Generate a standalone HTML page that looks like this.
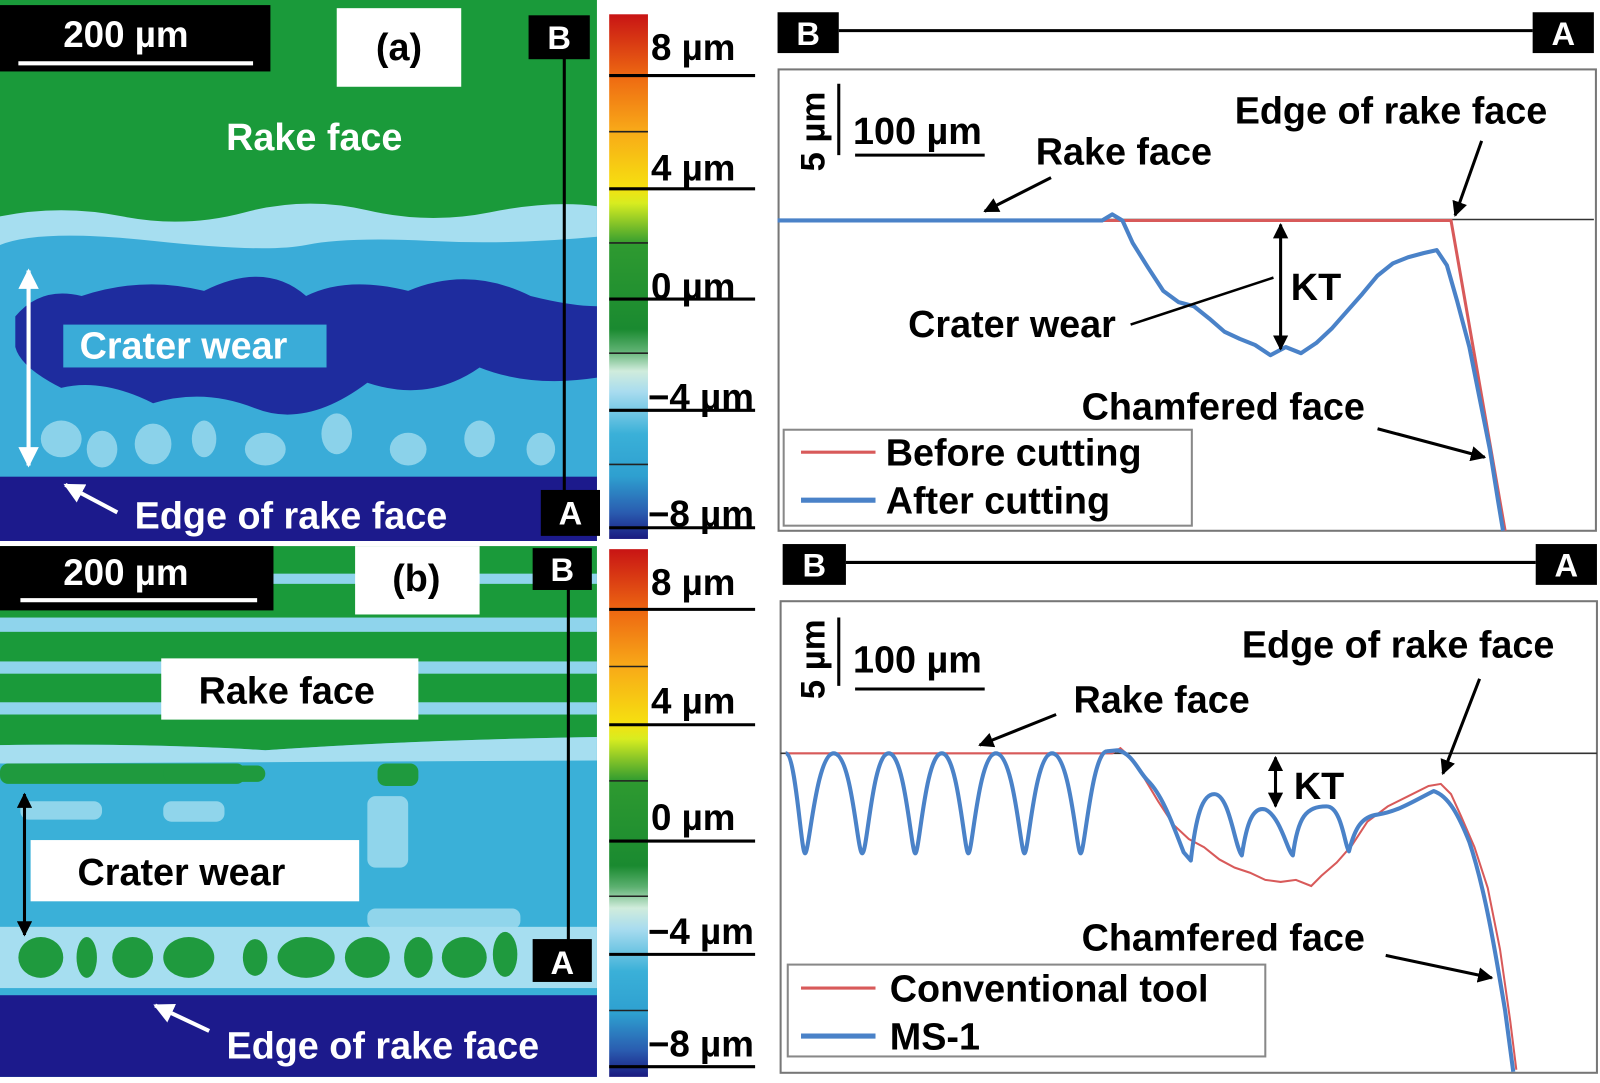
<!DOCTYPE html>
<html><head><meta charset="utf-8"><style>html,body{margin:0;padding:0;background:#fff}svg{display:block}text{font-family:"Liberation Sans",Arial,sans-serif;font-weight:bold}</style></head>
<body>
<svg width="1600" height="1083" viewBox="0 0 1568 1061" preserveAspectRatio="none" xmlns="http://www.w3.org/2000/svg">
<defs>
<linearGradient id="cb" x1="0" y1="0" x2="0" y2="1">
<stop offset="0" stop-color="#c81414"/><stop offset="0.12" stop-color="#ee6a12"/><stop offset="0.22" stop-color="#f8a818"/><stop offset="0.33" stop-color="#f6e010"/><stop offset="0.36" stop-color="#d8ec20"/><stop offset="0.44" stop-color="#2e9a30"/><stop offset="0.6" stop-color="#1a8a30"/><stop offset="0.64" stop-color="#5cb070"/><stop offset="0.68" stop-color="#d0ecdc"/><stop offset="0.72" stop-color="#a8dcef"/><stop offset="0.8" stop-color="#3ab0d8"/><stop offset="0.88" stop-color="#2ea0d0"/><stop offset="0.95" stop-color="#2a5cb0"/><stop offset="1" stop-color="#1a1a80"/>
</linearGradient>
<marker id="ah" viewBox="0 0 10 10" refX="9" refY="5" markerWidth="5" markerHeight="5" orient="auto-start-reverse"><path d="M0,0L10,5L0,10z" fill="#000"/></marker>
<marker id="aw" viewBox="0 0 10 10" refX="9" refY="5" markerWidth="5" markerHeight="5" orient="auto-start-reverse"><path d="M0,0L10,5L0,10z" fill="#fff"/></marker>
</defs>

<!-- Panel (a) left -->
<rect x="0" y="0" width="585" height="530" fill="#1a9a3a"/>
<path d="M0,215 Q60,205 120,215 T240,212 T360,210 T480,212 T585,205 L585,470 L0,470Z" fill="#3aacd8"/>
<path d="M0,212 Q60,200 120,212 T240,208 T360,206 T480,208 T585,202 L585,232 Q500,240 420,236 T300,240 T150,236 T0,240Z" fill="#a6def0"/>
<path d="M15,310 Q40,280 80,290 Q140,270 200,285 Q260,255 300,290 Q340,270 400,285 Q460,260 520,290 Q560,300 585,300 L585,370 Q520,380 470,360 Q420,395 360,375 Q300,420 250,400 Q200,380 150,395 Q100,370 60,380 Q20,360 15,340Z" fill="#1e2c9e"/>
<g fill="#a0dcef" opacity="0.8">
<ellipse cx="60" cy="430" rx="20" ry="18"/><ellipse cx="100" cy="440" rx="15" ry="18"/><ellipse cx="150" cy="435" rx="18" ry="20"/><ellipse cx="200" cy="430" rx="12" ry="18"/><ellipse cx="260" cy="440" rx="20" ry="16"/><ellipse cx="330" cy="425" rx="15" ry="20"/><ellipse cx="400" cy="440" rx="18" ry="16"/><ellipse cx="470" cy="430" rx="15" ry="18"/><ellipse cx="530" cy="440" rx="14" ry="16"/>
</g>
<rect x="0" y="467" width="585" height="63" fill="#1c1a8c"/>
<text x="308" y="147" font-size="37" fill="#fff" text-anchor="middle">Rake face</text>
<rect x="62" y="318" width="258" height="42" fill="#3aacd8"/>
<text x="78" y="351" font-size="37" fill="#fff">Crater wear</text>
<line x1="28" y1="265" x2="28" y2="456" stroke="#fff" stroke-width="4" marker-start="url(#aw)" marker-end="url(#aw)"/>
<line x1="115" y1="502" x2="64" y2="475" stroke="#fff" stroke-width="4" marker-end="url(#aw)"/>
<text x="132" y="518" font-size="37" fill="#fff">Edge of rake face</text>
<rect x="0" y="5" width="265" height="65" fill="#000"/>
<text x="62" y="46" font-size="36" fill="#fff">200 µm</text>
<line x1="18" y1="62" x2="248" y2="62" stroke="#fff" stroke-width="4"/>
<rect x="330" y="8" width="122" height="77" fill="#fff"/>
<text x="391" y="59" font-size="37" fill="#000" text-anchor="middle">(a)</text>
<line x1="553" y1="55" x2="553" y2="482" stroke="#000" stroke-width="3"/>
<rect x="518" y="15" width="60" height="43" fill="#000"/><text x="548" y="48" font-size="32" fill="#fff" text-anchor="middle">B</text>
<rect x="530" y="480" width="58" height="45" fill="#000"/><text x="559" y="514" font-size="32" fill="#fff" text-anchor="middle">A</text>

<!-- Colorbar (a) -->
<rect x="597" y="14" width="38" height="514" fill="url(#cb)"/>
<g stroke="#000" stroke-width="3"><line x1="597" y1="74" x2="740" y2="74"/><line x1="597" y1="185" x2="740" y2="185"/><line x1="597" y1="293" x2="740" y2="293"/><line x1="597" y1="402" x2="740" y2="402"/><line x1="597" y1="517" x2="740" y2="517"/></g>
<g stroke="#222" stroke-width="1.5"><line x1="597" y1="129" x2="635" y2="129"/><line x1="597" y1="238" x2="635" y2="238"/><line x1="597" y1="346" x2="635" y2="346"/><line x1="597" y1="455" x2="635" y2="455"/></g>
<g font-size="36" fill="#000"><text x="638" y="59">8 µm</text><text x="638" y="177">4 µm</text><text x="638" y="293">0 µm</text><text x="635" y="401">−4 µm</text><text x="635" y="516">−8 µm</text></g>

<!-- Right (a) -->
<rect x="762" y="12" width="60" height="40" fill="#000"/><text x="792" y="44" font-size="32" fill="#fff" text-anchor="middle">B</text>
<line x1="822" y1="30" x2="1502" y2="30" stroke="#000" stroke-width="3"/>
<rect x="1502" y="12" width="60" height="40" fill="#000"/><text x="1532" y="44" font-size="32" fill="#fff" text-anchor="middle">A</text>
<rect x="763" y="68" width="801" height="452" fill="none" stroke="#777" stroke-width="2"/>
<line x1="762" y1="215" x2="1562" y2="215" stroke="#333" stroke-width="1.5"/>
<polyline points="762,216 1422,216 1475,520" fill="none" stroke="#d85a5a" stroke-width="3"/>
<polyline points="762,216 1080,216 1090,210 1100,216 1110,238 1125,262 1140,285 1155,296 1170,300 1185,312 1200,325 1215,332 1230,338 1245,348 1260,340 1275,346 1290,336 1305,322 1320,305 1335,288 1350,270 1365,258 1380,252 1395,248 1408,245 1418,260 1428,295 1440,340 1450,390 1460,440 1468,490 1473,520" fill="none" stroke="#4a82c8" stroke-width="4" stroke-linejoin="round"/>
<line x1="822" y1="82" x2="822" y2="152" stroke="#000" stroke-width="3"/>
<text transform="translate(808,168) rotate(-90)" font-size="34" fill="#000">5 µm</text>
<line x1="838" y1="152" x2="965" y2="152" stroke="#000" stroke-width="3"/>
<text x="836" y="141" font-size="37" fill="#000">100 µm</text>
<text x="1210" y="121" font-size="37" fill="#000">Edge of rake face</text>
<text x="1015" y="161" font-size="37" fill="#000">Rake face</text>
<line x1="1030" y1="174" x2="965" y2="207" stroke="#000" stroke-width="3" marker-end="url(#ah)"/>
<line x1="1452" y1="138" x2="1426" y2="211" stroke="#000" stroke-width="3" marker-end="url(#ah)"/>
<line x1="1255" y1="220" x2="1255" y2="342" stroke="#000" stroke-width="3" marker-start="url(#ah)" marker-end="url(#ah)"/>
<text x="1265" y="294" font-size="37" fill="#000">KT</text>
<text x="890" y="330" font-size="37" fill="#000">Crater wear</text>
<line x1="1108" y1="318" x2="1248" y2="272" stroke="#000" stroke-width="2.5"/>
<text x="1060" y="411" font-size="37" fill="#000">Chamfered face</text>
<line x1="1350" y1="420" x2="1455" y2="448" stroke="#000" stroke-width="3" marker-end="url(#ah)"/>
<rect x="768" y="421" width="400" height="94" fill="#fff" stroke="#888" stroke-width="2"/>
<line x1="785" y1="443" x2="858" y2="443" stroke="#d85a5a" stroke-width="3"/>
<text x="868" y="456" font-size="37" fill="#000">Before cutting</text>
<line x1="785" y1="490" x2="858" y2="490" stroke="#4a82c8" stroke-width="5"/>
<text x="868" y="503" font-size="37" fill="#000">After cutting</text>

<!-- Panel (b) left -->
<rect x="0" y="535" width="585" height="520" fill="#1a9a3a"/>
<g fill="#8fd4ec">
<rect x="0" y="562" width="585" height="10"/><rect x="0" y="605" width="585" height="14"/><rect x="0" y="648" width="585" height="12"/><rect x="0" y="688" width="585" height="12"/>
</g>
<path d="M0,730 Q150,728 260,735 Q400,725 585,722 L585,1055 L0,1055Z" fill="#3ab0d8"/>
<path d="M0,730 Q150,728 260,735 Q400,725 585,722 L585,745 L0,748Z" fill="#a6def0"/>
<g fill="#1f9a3e">
<rect x="0" y="748" width="240" height="20" rx="8"/><rect x="160" y="750" width="100" height="16" rx="8"/><rect x="370" y="748" width="40" height="22" rx="8"/>
</g>
<g fill="#a6def0" opacity="0.8"><rect x="20" y="785" width="80" height="18" rx="8"/><rect x="160" y="785" width="60" height="20" rx="8"/><rect x="360" y="780" width="40" height="70" rx="8"/><rect x="360" y="890" width="150" height="20" rx="8"/></g>
<rect x="0" y="908" width="585" height="60" fill="#a6def0"/>
<g fill="#1f9a3e">
<ellipse cx="40" cy="938" rx="22" ry="20"/><ellipse cx="85" cy="938" rx="10" ry="20"/><ellipse cx="130" cy="938" rx="20" ry="20"/><ellipse cx="185" cy="938" rx="25" ry="20"/><ellipse cx="250" cy="938" rx="12" ry="18"/><ellipse cx="300" cy="938" rx="28" ry="20"/><ellipse cx="360" cy="938" rx="22" ry="20"/><ellipse cx="410" cy="938" rx="14" ry="20"/><ellipse cx="455" cy="938" rx="22" ry="20"/><ellipse cx="495" cy="935" rx="12" ry="22"/>
</g>
<rect x="0" y="975" width="585" height="80" fill="#1c1a8c"/>
<rect x="158" y="645" width="252" height="60" fill="#fff"/>
<text x="281" y="689" font-size="37" fill="#000" text-anchor="middle">Rake face</text>
<rect x="30" y="823" width="322" height="60" fill="#fff"/>
<text x="76" y="867" font-size="37" fill="#000">Crater wear</text>
<line x1="24" y1="778" x2="24" y2="916" stroke="#000" stroke-width="3" marker-start="url(#ah)" marker-end="url(#ah)"/>
<line x1="205" y1="1010" x2="152" y2="985" stroke="#fff" stroke-width="4" marker-end="url(#aw)"/>
<text x="222" y="1037" font-size="37" fill="#fff">Edge of rake face</text>
<rect x="0" y="535" width="268" height="63" fill="#000"/>
<text x="62" y="573" font-size="36" fill="#fff">200 µm</text>
<line x1="20" y1="588" x2="252" y2="588" stroke="#fff" stroke-width="4"/>
<rect x="348" y="535" width="122" height="67" fill="#fff"/>
<text x="408" y="579" font-size="37" fill="#000" text-anchor="middle">(b)</text>
<line x1="557" y1="575" x2="557" y2="922" stroke="#000" stroke-width="3"/>
<rect x="522" y="537" width="58" height="41" fill="#000"/><text x="551" y="569" font-size="32" fill="#fff" text-anchor="middle">B</text>
<rect x="522" y="920" width="58" height="42" fill="#000"/><text x="551" y="954" font-size="32" fill="#fff" text-anchor="middle">A</text>

<!-- Colorbar (b) -->
<rect x="597" y="538" width="38" height="517" fill="url(#cb)"/>
<g stroke="#000" stroke-width="3"><line x1="597" y1="597" x2="740" y2="597"/><line x1="597" y1="710" x2="740" y2="710"/><line x1="597" y1="824" x2="740" y2="824"/><line x1="597" y1="935" x2="740" y2="935"/><line x1="597" y1="1045" x2="740" y2="1045"/></g>
<g stroke="#222" stroke-width="1.5"><line x1="597" y1="653" x2="635" y2="653"/><line x1="597" y1="765" x2="635" y2="765"/><line x1="597" y1="878" x2="635" y2="878"/><line x1="597" y1="990" x2="635" y2="990"/></g>
<g font-size="36" fill="#000"><text x="638" y="583">8 µm</text><text x="638" y="699">4 µm</text><text x="638" y="813">0 µm</text><text x="635" y="925">−4 µm</text><text x="635" y="1035">−8 µm</text></g>

<!-- Right (b) -->
<rect x="767" y="533" width="62" height="40" fill="#000"/><text x="798" y="565" font-size="32" fill="#fff" text-anchor="middle">B</text>
<line x1="829" y1="551" x2="1505" y2="551" stroke="#000" stroke-width="3"/>
<rect x="1505" y="533" width="60" height="40" fill="#000"/><text x="1535" y="565" font-size="32" fill="#fff" text-anchor="middle">A</text>
<rect x="765" y="589" width="800" height="462" fill="none" stroke="#777" stroke-width="2"/>
<line x1="765" y1="738" x2="1565" y2="738" stroke="#333" stroke-width="1.5"/>
<polyline points="770,738 1090,738 1098,733 1108,742 1120,760 1135,785 1150,808 1165,822 1180,830 1195,842 1210,850 1225,855 1240,862 1255,864 1270,862 1285,868 1295,858 1310,845 1325,828 1340,805 1360,790 1380,780 1400,770 1412,768 1422,778 1432,800 1445,830 1458,870 1470,930 1480,1000 1486,1048" fill="none" stroke="#d85a5a" stroke-width="2"/>
<path d="M770,738 C780,738 785,836 789,836 C793,836 800,738 817,738 C835,738 840,836 845,836 C850,836 855,738 871,738 C887,738 893,836 897,836 C901,836 907,738 923,738 C939,738 945,836 949,836 C953,836 959,738 976,738 C994,738 1000,836 1004,836 C1008,836 1014,738 1031,738 C1049,738 1055,836 1059,836 C1063,836 1070,736 1085,736 L1095,735 C1110,738 1115,755 1125,765 C1140,780 1150,810 1160,835 L1167,843 C1172,800 1178,778 1190,778 C1205,778 1210,830 1217,838 C1222,805 1228,790 1240,793 C1255,800 1262,835 1267,838 C1272,800 1280,790 1300,790 C1315,790 1318,830 1322,834 C1328,810 1335,800 1350,798 C1370,795 1385,785 1405,775 C1420,780 1430,800 1440,825 C1455,870 1465,930 1475,990 L1483,1050" fill="none" stroke="#4a82c8" stroke-width="4" stroke-linejoin="round"/>
<line x1="822" y1="605" x2="822" y2="672" stroke="#000" stroke-width="3"/>
<text transform="translate(808,685) rotate(-90)" font-size="34" fill="#000">5 µm</text>
<line x1="838" y1="675" x2="965" y2="675" stroke="#000" stroke-width="3"/>
<text x="836" y="659" font-size="37" fill="#000">100 µm</text>
<text x="1217" y="644" font-size="37" fill="#000">Edge of rake face</text>
<text x="1052" y="698" font-size="37" fill="#000">Rake face</text>
<line x1="1035" y1="700" x2="960" y2="730" stroke="#000" stroke-width="3" marker-end="url(#ah)"/>
<line x1="1450" y1="665" x2="1414" y2="758" stroke="#000" stroke-width="3" marker-end="url(#ah)"/>
<line x1="1250" y1="742" x2="1250" y2="790" stroke="#000" stroke-width="3" marker-start="url(#ah)" marker-end="url(#ah)"/>
<text x="1268" y="783" font-size="37" fill="#000">KT</text>
<text x="1060" y="931" font-size="37" fill="#000">Chamfered face</text>
<line x1="1358" y1="936" x2="1462" y2="958" stroke="#000" stroke-width="3" marker-end="url(#ah)"/>
<rect x="772" y="945" width="468" height="90" fill="#fff" stroke="#888" stroke-width="2"/>
<line x1="785" y1="968" x2="858" y2="968" stroke="#d85a5a" stroke-width="3"/>
<text x="872" y="981" font-size="37" fill="#000">Conventional tool</text>
<line x1="785" y1="1015" x2="858" y2="1015" stroke="#4a82c8" stroke-width="5"/>
<text x="872" y="1028" font-size="37" fill="#000">MS-1</text>
</svg>
</body></html>
